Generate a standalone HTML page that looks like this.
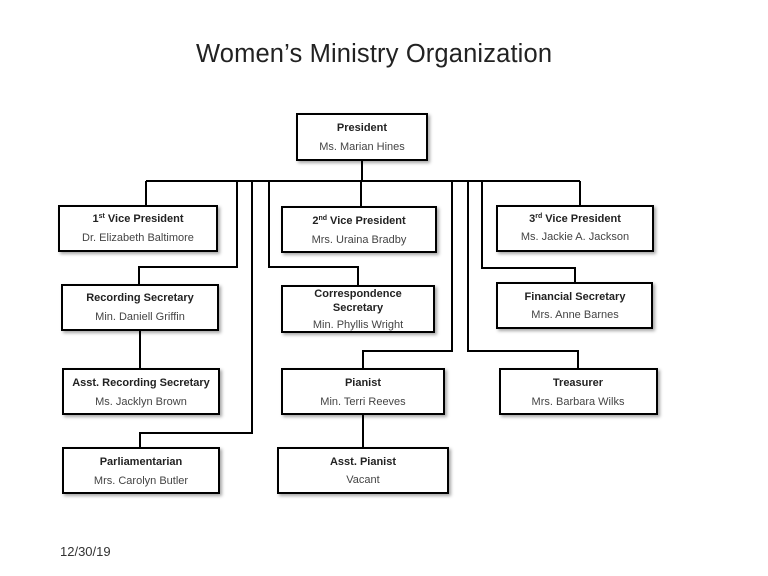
<!DOCTYPE html>
<html><head><meta charset="utf-8"><style>
body{margin:0;background:#fff;}
svg{display:block;font-family:"Liberation Sans",sans-serif;}
.b{font-weight:bold;font-size:11px;fill:#222;}
.n{font-size:11px;fill:#444;}
</style></head><body>
<svg width="768" height="576" viewBox="0 0 768 576">
<defs><filter id="s" x="-10%" y="-10%" width="130%" height="140%"><feDropShadow dx="2" dy="2" stdDeviation="1.5" flood-color="#000" flood-opacity="0.35"/></filter></defs>
<text x="374" y="62" text-anchor="middle" font-size="25.5" fill="#222" textLength="356">Women’s Ministry Organization</text>
<text x="60" y="556" font-size="13" fill="#333">12/30/19</text>
<g stroke="#000" stroke-width="2" fill="none">
<path d="M362 160V181M146 181H580M146 181V205M580 181V206M361 181V207"/>
<path d="M237 181V267H139V285"/>
<path d="M252 181V433H140V448"/>
<path d="M269 181V267H358V286"/>
<path d="M452 181V351H363V369"/>
<path d="M468 181V351H578V369"/>
<path d="M482 181V268H575V283"/>
<path d="M140 330V369M363 414V448"/>
</g>
<g fill="#fff" stroke="#000" stroke-width="2" filter="url(#s)">
<rect x="297" y="114" width="130" height="46"/>
<rect x="59" y="206" width="158" height="45"/>
<rect x="282" y="207" width="154" height="45"/>
<rect x="497" y="206" width="156" height="45"/>
<rect x="62" y="285" width="156" height="45"/>
<rect x="282" y="286" width="152" height="46"/>
<rect x="497" y="283" width="155" height="45"/>
<rect x="63" y="369" width="156" height="45"/>
<rect x="282" y="369" width="162" height="45"/>
<rect x="500" y="369" width="157" height="45"/>
<rect x="63" y="448" width="156" height="45"/>
<rect x="278" y="448" width="170" height="45"/>
</g>
<g text-anchor="middle">
<text class="b" x="362" y="131">President</text><text class="n" x="362" y="150">Ms. Marian Hines</text>
<text class="b" x="138" y="222">1<tspan font-size="7" dy="-4">st</tspan><tspan dy="4"> Vice President</tspan></text><text class="n" x="138" y="241">Dr. Elizabeth Baltimore</text>
<text class="b" x="359" y="224">2<tspan font-size="7" dy="-4">nd</tspan><tspan dy="4"> Vice President</tspan></text><text class="n" x="359" y="243">Mrs. Uraina Bradby</text>
<text class="b" x="575" y="222">3<tspan font-size="7" dy="-4">rd</tspan><tspan dy="4"> Vice President</tspan></text><text class="n" x="575" y="240">Ms. Jackie A. Jackson</text>
<text class="b" x="140" y="301">Recording Secretary</text><text class="n" x="140" y="320">Min. Daniell Griffin</text>
<text class="b" x="358" y="297">Correspondence</text><text class="b" x="358" y="311">Secretary</text><text class="n" x="358" y="328">Min. Phyllis Wright</text>
<text class="b" x="575" y="300">Financial Secretary</text><text class="n" x="575" y="318">Mrs. Anne Barnes</text>
<text class="b" x="141" y="386">Asst. Recording Secretary</text><text class="n" x="141" y="405">Ms. Jacklyn Brown</text>
<text class="b" x="363" y="386">Pianist</text><text class="n" x="363" y="405">Min. Terri Reeves</text>
<text class="b" x="578" y="386">Treasurer</text><text class="n" x="578" y="405">Mrs. Barbara Wilks</text>
<text class="b" x="141" y="465">Parliamentarian</text><text class="n" x="141" y="484">Mrs. Carolyn Butler</text>
<text class="b" x="363" y="465">Asst. Pianist</text><text class="n" x="363" y="483">Vacant</text>
</g>
</svg>
</body></html>
